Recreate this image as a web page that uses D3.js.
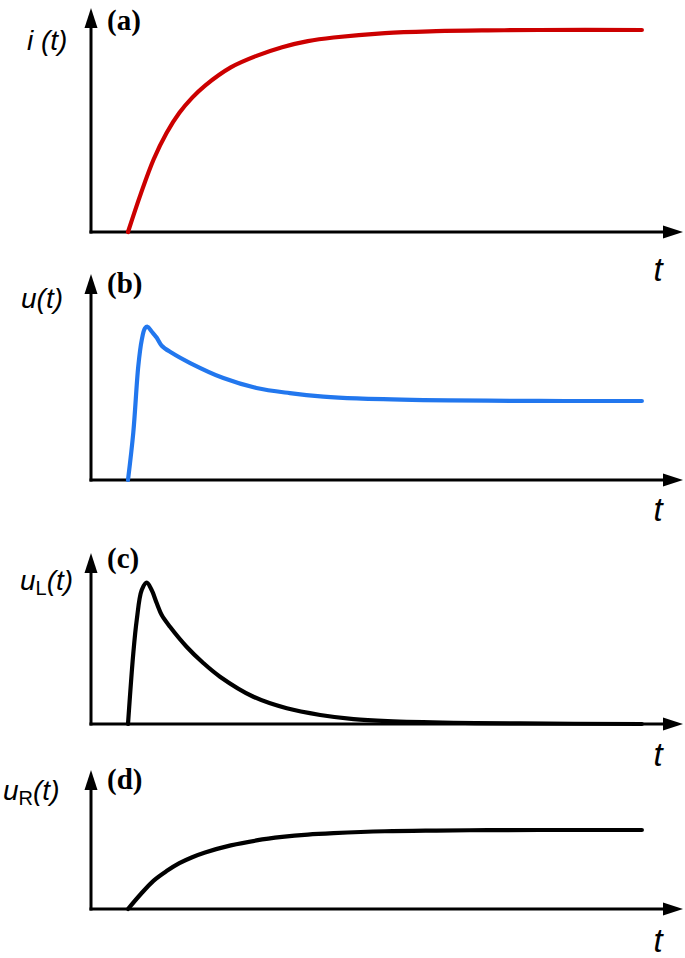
<!DOCTYPE html>
<html>
<head>
<meta charset="utf-8">
<script src="https://cdn.jsdelivr.net/npm/d3@7/dist/d3.min.js"></script>
<style>
  html, body { margin: 0; padding: 0; background: #fff; }
  svg { display: block; }
</style>
</head>
<body>
<svg id="chart" width="685" height="958"></svg>
<script>
// ---- data ----
const tA = [0, 0.25, 0.5, 0.75, 1, 1.25, 1.5, 2, 2.5, 3, 3.5, 4, 5, 6, 7, 8, 10];
const iVals = [0, 0.19, 0.36, 0.49, 0.59, 0.665, 0.725, 0.815, 0.872, 0.915, 0.945, 0.963, 0.985, 0.994, 0.998, 1, 1];

const tB = [0, 0.103, 0.2, 0.267, 0.33, 0.38, 0.46, 0.56, 0.656, 0.85, 1.21, 1.855, 2.5, 3.15, 3.8, 4.45, 5.75, 7, 8.5, 10];
const uVals = [0, 0.60, 1.44, 1.77, 1.92, 1.94, 1.88, 1.80, 1.70, 1.61, 1.48, 1.29, 1.165, 1.10, 1.056, 1.032, 1.012, 1.004, 1.0, 1.0];

const tC = [0, 0.103, 0.17, 0.267, 0.365, 0.46, 0.56, 0.656, 0.817, 1.14, 1.47, 1.79, 2.44, 3.09, 3.74, 4.39, 5.05, 6.34, 7.63, 10];
const uLVals = [0, 0.50, 0.736, 0.948, 1.0, 0.948, 0.854, 0.771, 0.688, 0.547, 0.43, 0.335, 0.193, 0.111, 0.064, 0.035, 0.021, 0.009, 0.004, 0];

const tD = [0, 0.25, 0.5, 0.75, 1, 1.25, 1.5, 2, 2.5, 3, 3.5, 4, 5, 6, 7, 8, 10];
const uRVals = [0, 0.19, 0.36, 0.48, 0.58, 0.655, 0.715, 0.805, 0.868, 0.912, 0.942, 0.96, 0.984, 0.993, 0.998, 1, 1];

const panelTags = ["(a)", "(b)", "(c)", "(d)"];
const axisName = "t";

// ---- layout ----
const svg = d3.select("#chart");
const x = d3.scaleLinear().domain([-0.72, 10.8]).range([91, 683]);

const panels = [
  { t: tA, v: iVals, color: "#cc0000", base: 232, unitTop: 30, top: 8,
    label: [{ txt: "i (t)" }], labelX: 27, labelY: 50, tagY: 30, tY: 281 },
  { t: tB, v: uVals, color: "#2277ee", base: 480, unitTop: 401, top: 274,
    label: [{ txt: "u(t)" }], labelX: 21, labelY: 308, tagY: 293, tY: 521 },
  { t: tC, v: uLVals, color: "#000000", base: 724, unitTop: 582.7, top: 553,
    label: [{ txt: "u" }, { txt: "L", sub: true }, { txt: "(t)" }], labelX: 20, labelY: 590, tagY: 568, tY: 766 },
  { t: tD, v: uRVals, color: "#000000", base: 909, unitTop: 830, top: 770,
    label: [{ txt: "u" }, { txt: "R", sub: true }, { txt: "(t)" }], labelX: 3, labelY: 800, tagY: 789, tY: 952 }
];

const axisX0 = x.range()[0];
const axisX1 = x.range()[1];
const arrowLen = 20, arrowHalf = 6.5;

panels.forEach((p, k) => {
  const y = d3.scaleLinear().domain([0, 1]).range([p.base, p.unitTop]);
  const g = svg.append("g");

  // axes
  g.append("line").attr("x1", axisX0).attr("x2", axisX0)
    .attr("y1", p.base + 1.5).attr("y2", p.top + arrowLen - 2)
    .attr("stroke", "#000").attr("stroke-width", 3);
  g.append("line").attr("x1", axisX0 - 1.5).attr("x2", axisX1 - arrowLen + 2)
    .attr("y1", p.base).attr("y2", p.base)
    .attr("stroke", "#000").attr("stroke-width", 3);
  // arrowheads
  g.append("path")
    .attr("d", `M${axisX0},${p.top} L${axisX0 - arrowHalf},${p.top + arrowLen} L${axisX0 + arrowHalf},${p.top + arrowLen} Z`)
    .attr("fill", "#000");
  g.append("path")
    .attr("d", `M${axisX1},${p.base} L${axisX1 - arrowLen},${p.base - arrowHalf} L${axisX1 - arrowLen},${p.base + arrowHalf} Z`)
    .attr("fill", "#000");

  // curve
  const pts = p.t.map((tt, i) => [tt, p.v[i]]);
  const line = d3.line().x(d => x(d[0])).y(d => y(d[1])).curve(d3.curveCatmullRom.alpha(0.5));
  g.append("path").datum(pts).attr("d", line)
    .attr("fill", "none").attr("stroke", p.color).attr("stroke-width", 4.2)
    .attr("stroke-linejoin", "round").attr("stroke-linecap", "round");

  // panel tag
  g.append("text").attr("x", 107).attr("y", p.tagY)
    .attr("font-family", "'Liberation Serif', 'Times New Roman', serif")
    .attr("font-weight", "bold").attr("font-size", 29).attr("fill", "#000")
    .text(panelTags[k]);

  // y label
  const lab = g.append("text").attr("x", p.labelX).attr("y", p.labelY)
    .attr("font-family", "'Liberation Sans', Arial, sans-serif")
    .attr("font-size", 28).attr("fill", "#000");
  p.label.forEach(part => {
    if (part.sub) {
      lab.append("tspan").attr("font-size", 20).attr("dy", 5).text(part.txt);
    } else {
      const ts = lab.append("tspan").attr("font-style", "italic").text(part.txt);
      if (lab.selectAll("tspan").size() > 1) ts.attr("dy", -5);
    }
  });

  // t label
  g.append("text").attr("x", 658).attr("y", p.tY).attr("text-anchor", "middle")
    .attr("font-family", "'Liberation Sans', Arial, sans-serif")
    .attr("font-style", "italic").attr("font-size", 33).attr("fill", "#000")
    .text(axisName);
});
</script>
</body>
</html>
